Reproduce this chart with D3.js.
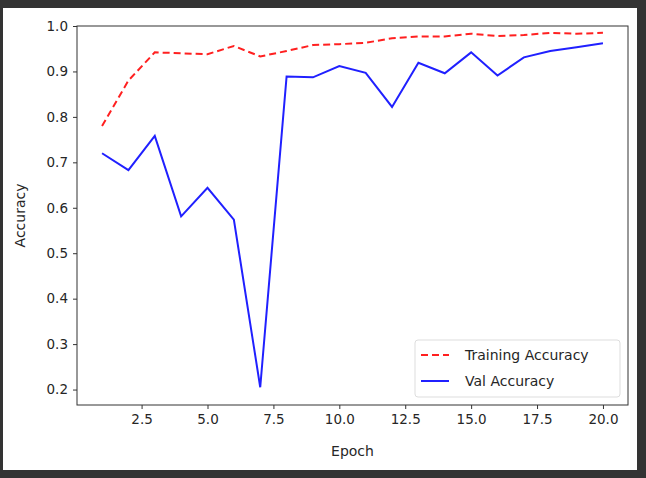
<!DOCTYPE html>
<html lang="en">
<head>
<meta charset="UTF-8">
<script src="https://d3js.org/d3.v7.min.js"></script>
<style>body{margin:0;background:#333;} text{font-family:"DejaVu Sans",sans-serif;fill:#262626;}</style>
</head>
<body>
<svg id="svg"></svg>
<script>
const epochs = d3.range(1, 21);
const trainAcc = [0.78,0.88,0.942,0.94,0.938,0.956,0.933,0.945,0.958,0.96,0.963,0.973,0.977,0.977,0.983,0.978,0.98,0.985,0.983,0.985];
const valAcc = [0.72,0.683,0.758,0.581,0.644,0.574,0.205,0.889,0.887,0.912,0.897,0.822,0.919,0.896,0.942,0.891,0.931,0.945,0.953,0.962];
const xTicks = [2.5,5,7.5,10,12.5,15,17.5,20];
const yTicks = [0.2,0.3,0.4,0.5,0.6,0.7,0.8,0.9,1.0];

const width = 646, height = 478;
const margin = {top: 26, right: 18, bottom: 73, left: 77};
const svg = d3.select("#svg").attr("width", width).attr("height", height);
svg.append("rect").attr("x", 3).attr("y", 8).attr("width", 634).attr("height", 462).attr("fill", "white");

const x = d3.scaleLinear().domain([0.05, 20.95]).range([margin.left, width - margin.right]);
const y = d3.scaleLinear().domain([0.166, 1.0]).range([height - margin.bottom, margin.top]);

const xAxis = svg.append("g").attr("transform", `translate(0,${height - margin.bottom})`)
  .call(d3.axisBottom(x).tickValues(xTicks).tickFormat(d3.format(".1f")).tickSizeOuter(0).tickSize(4).tickPadding(5));
const yAxis = svg.append("g").attr("transform", `translate(${margin.left},0)`)
  .call(d3.axisLeft(y).tickValues(yTicks).tickFormat(d3.format(".1f")).tickSizeOuter(0).tickSize(4).tickPadding(5));
[xAxis, yAxis].forEach(g => {
  g.select(".domain").remove();
  g.selectAll("text").attr("font-size", 13.5).style("fill", "#262626").attr("font-family", "DejaVu Sans");
  g.selectAll("line").attr("stroke", "#333");
});
svg.append("rect").attr("x", margin.left).attr("y", margin.top)
  .attr("width", width - margin.right - margin.left).attr("height", height - margin.bottom - margin.top)
  .attr("fill", "none").attr("stroke", "#333").attr("stroke-width", 1);

const line = d3.line().x((d, i) => x(epochs[i])).y(d => y(d));
svg.append("path").attr("d", line(trainAcc)).attr("fill", "none").attr("stroke", "#ff2020")
  .attr("stroke-width", 2).attr("stroke-dasharray", "7,4");
svg.append("path").attr("d", line(valAcc)).attr("fill", "none").attr("stroke", "#2020ff")
  .attr("stroke-width", 2);

svg.append("text").attr("x", (margin.left + width - margin.right) / 2).attr("y", 456)
  .attr("text-anchor", "middle").attr("font-size", 14).text("Epoch");
svg.append("text").attr("transform", `translate(25,${(margin.top + height - margin.bottom) / 2}) rotate(-90)`)
  .attr("text-anchor", "middle").attr("font-size", 14).text("Accuracy");

const leg = svg.append("g").attr("transform", "translate(415,340)");
leg.append("rect").attr("width", 205).attr("height", 57).attr("rx", 3).attr("fill", "white").attr("stroke", "#ddd");
const items = [{name: "Training Accuracy", color: "#ff2020", dash: "7,4"}, {name: "Val Accuracy", color: "#2020ff", dash: null}];
items.forEach((d, i) => {
  const yy = 15 + i * 26;
  leg.append("line").attr("x1", 6).attr("x2", 34).attr("y1", yy).attr("y2", yy)
    .attr("stroke", d.color).attr("stroke-width", 2).attr("stroke-dasharray", d.dash);
  leg.append("text").attr("x", 50).attr("y", yy + 5).attr("font-size", 14).text(d.name);
});
</script>
</body>
</html>
